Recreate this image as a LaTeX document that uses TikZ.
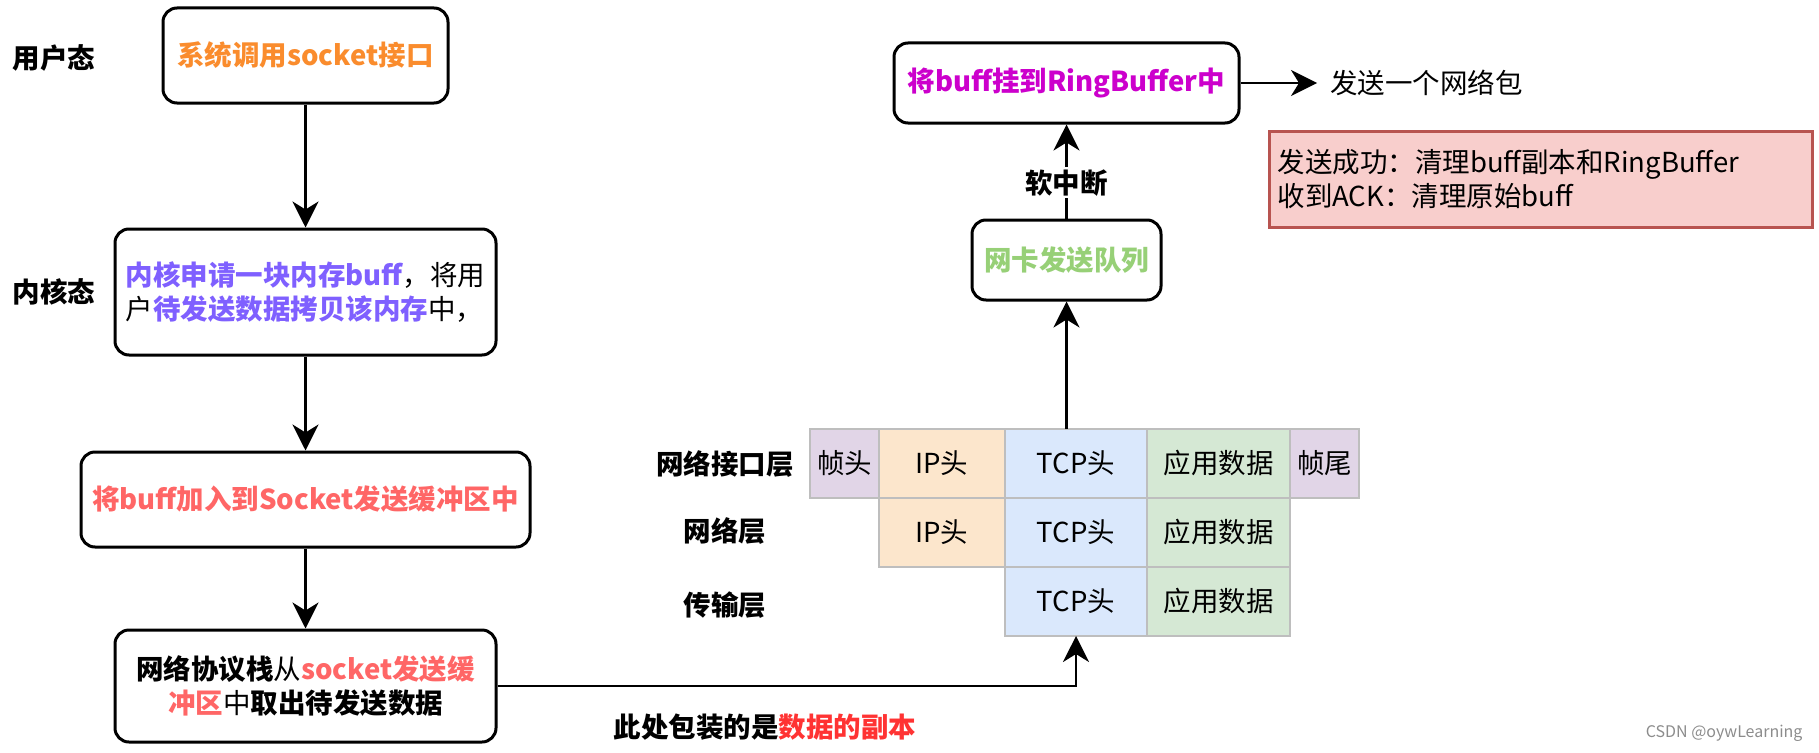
\documentclass[tikz,border=0pt]{standalone}
\usepackage{fontspec}
\setmainfont{Noto Sans CJK SC}
\usetikzlibrary{arrows.meta}

\definecolor{usrtxt}{RGB}{250,140,45}
\definecolor{krntxt}{RGB}{127,96,255}
\definecolor{socktxt}{RGB}{255,102,102}
\definecolor{ringtxt}{RGB}{204,0,204}
\definecolor{nictxt}{RGB}{151,208,119}
\definecolor{copytxt}{RGB}{255,51,51}
\definecolor{framefill}{RGB}{225,213,231}
\definecolor{ipfill}{RGB}{252,230,204}
\definecolor{tcpfill}{RGB}{218,232,252}
\definecolor{datafill}{RGB}{213,232,212}
\definecolor{cellline}{RGB}{190,190,190}
\definecolor{notefill}{RGB}{248,206,204}
\definecolor{noteline}{RGB}{184,84,80}

\begin{document}
\begin{tikzpicture}[x=1pt,y=-1pt,
  txt/.style={font=\fontsize{27.5}{34}\selectfont},
  stepbox/.style={txt, draw, line width=3pt, rounded corners=14pt, align=center, inner sep=0pt, fill=white},
  flow/.style={line width=2.5pt, -{Stealth[length=26pt,width=26pt,inset=8pt]}},
  cell/.style={txt, draw=cellline, line width=1.5pt, minimum height=69pt, inner sep=0pt, outer sep=0pt},
  layer/.style={txt, font=\fontsize{27.5}{34}\selectfont\bfseries}]

  \useasboundingbox (0,0) rectangle (1819,752);

  % state labels
  \node[layer] (user) at (54,58) {用户态};
  \node[layer] (kernel) at (54,292) {内核态};

  % left flow
  \node[stepbox, minimum width=285pt, minimum height=95pt] (call) at (305.5,55.5)
    {\color{usrtxt}\bfseries 系统调用socket接口};
  \node[stepbox, minimum width=381pt, minimum height=126pt, align=left] (alloc) at (305.5,292)
    {{\color{krntxt}\bfseries 内核申请一块内存buff}，将用\\户{\color{krntxt}\bfseries 待发送数据拷贝该内存}中，};
  \node[stepbox, minimum width=449pt, minimum height=95pt] (sock) at (305.5,499.5)
    {\color{socktxt}\bfseries 将buff加入到Socket发送缓冲区中};
  \node[stepbox, minimum width=381pt, minimum height=112pt] (stack) at (305.5,686)
    {{\bfseries 网络协议栈}从{\color{socktxt}\bfseries socket发送缓}\\{\color{socktxt}\bfseries 冲区}中{\bfseries 取出待发送数据}};

  \draw[flow] (call) -- (alloc);
  \draw[flow] (alloc) -- (sock);
  \draw[flow] (sock) -- (stack);

  % packet layers
  \node[layer] (ifl) at (725,464) {网络接口层};
  \node[layer] (netl) at (725,531) {网络层};
  \node[layer] (trl) at (725,605) {传输层};

  \node[cell, fill=framefill, minimum width=69pt] (fh) at (844.5,463.5) {帧头};
  \node[cell, fill=ipfill, minimum width=126pt] (ip1) at (942,463.5) {IP头};
  \node[cell, fill=tcpfill, minimum width=142pt] (tcp1) at (1076,463.5) {TCP头};
  \node[cell, fill=datafill, minimum width=143pt] (dat1) at (1218.5,463.5) {应用数据};
  \node[cell, fill=framefill, minimum width=69pt] (ft) at (1324.5,463.5) {帧尾};

  \node[cell, fill=ipfill, minimum width=126pt] (ip2) at (942,532.5) {IP头};
  \node[cell, fill=tcpfill, minimum width=142pt] (tcp2) at (1076,532.5) {TCP头};
  \node[cell, fill=datafill, minimum width=143pt] (dat2) at (1218.5,532.5) {应用数据};

  \node[cell, fill=tcpfill, minimum width=142pt] (tcp3) at (1076,601.5) {TCP头};
  \node[cell, fill=datafill, minimum width=143pt] (dat3) at (1218.5,601.5) {应用数据};

  \draw[flow] (stack.east) -| (tcp3.south);
  \node[layer, anchor=center] (copy) at (765,727)
    {此处包装的是{\color{copytxt}数据的副本}};

  % right flow
  \node[stepbox, minimum width=189pt, minimum height=80pt] (nic) at (1066.5,260)
    {\color{nictxt}\bfseries 网卡发送队列};
  \node[stepbox, minimum width=345pt, minimum height=80pt] (ring) at (1066.5,83)
    {\color{ringtxt}\bfseries 将buff挂到RingBuffer中};
  \node[txt, anchor=west, inner sep=13pt] (pkt) at (1317,83) {发送一个网络包};

  \draw[flow] (tcp1.north -| nic.south) -- (nic.south);
  \draw[flow] (nic) -- node[layer, fill=white, pos=0.38, inner sep=2pt] (soft) {软中断} (ring);
  \draw[flow] (ring) -- (pkt);

  \node[txt, draw=noteline, fill=notefill, line width=3pt, align=left, anchor=west,
        minimum width=543pt, minimum height=96pt, text width=527pt] (note) at (1268,179)
    {发送成功：清理buff副本和RingBuffer\\收到ACK：清理原始buff};

  \node[font=\fontsize{16}{18}\selectfont, text=black!45, anchor=east] (mark) at (1806,733)
    {CSDN @oywLearning};

\end{tikzpicture}
\end{document}
